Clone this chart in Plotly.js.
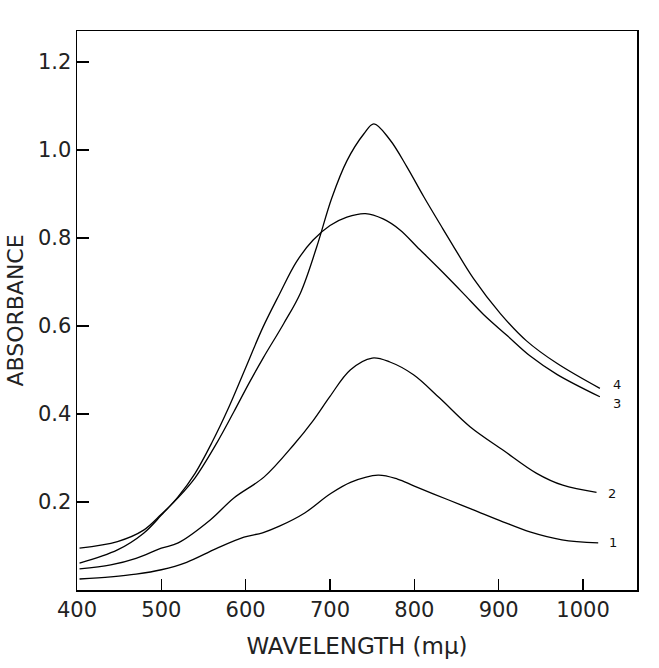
<!DOCTYPE html>
<html>
<head>
<meta charset="utf-8">
<script src="https://cdn.plot.ly/plotly-3.0.1.min.js"></script>
<style>html,body{margin:0;padding:0;background:#fff;}#chart{width:659px;height:668px;}</style>
</head>
<body>
<div id="chart"></div>
<script>
// Curve 1
const wl1 = [403, 440, 470, 500, 530, 565, 598, 620, 640, 670, 700, 725, 757, 780, 800, 840, 870, 905, 937, 975, 1018];
const abs1 = [0.025, 0.030, 0.036, 0.046, 0.063, 0.094, 0.120, 0.130, 0.145, 0.175, 0.218, 0.245, 0.261, 0.252, 0.236, 0.205, 0.182, 0.155, 0.132, 0.114, 0.107];
// Curve 2
const wl2 = [403, 440, 470, 500, 520, 558, 586, 622, 657, 680, 700, 724, 750, 771, 799, 830, 866, 905, 945, 976, 1016];
const abs2 = [0.048, 0.057, 0.072, 0.095, 0.107, 0.159, 0.209, 0.257, 0.330, 0.385, 0.440, 0.500, 0.527, 0.518, 0.489, 0.436, 0.371, 0.318, 0.265, 0.238, 0.222];
// Curve 3
const wl3 = [403, 448, 479, 500, 520, 540, 560, 580, 600, 620, 640, 660, 680, 700, 720, 742, 763, 783, 803, 831, 858, 882, 910, 937, 969, 1020];
const abs3 = [0.061, 0.091, 0.129, 0.170, 0.212, 0.265, 0.335, 0.415, 0.505, 0.595, 0.672, 0.745, 0.795, 0.828, 0.847, 0.855, 0.843, 0.818, 0.780, 0.727, 0.674, 0.626, 0.578, 0.532, 0.490, 0.439];
// Curve 4
const wl4 = [403, 448, 479, 500, 520, 540, 566, 586, 604, 621, 645, 665, 684, 702, 720, 740, 752, 771, 791, 811, 834, 846, 870, 902, 933, 969, 1020];
const abs4 = [0.095, 0.110, 0.136, 0.172, 0.210, 0.255, 0.335, 0.405, 0.470, 0.528, 0.605, 0.675, 0.778, 0.890, 0.975, 1.036, 1.059, 1.023, 0.962, 0.894, 0.820, 0.782, 0.708, 0.628, 0.566, 0.515, 0.458];

const curveLabels = ["1", "2", "3", "4"];
const labelX = [1036, 1034, 1040, 1040];
const labelY = [0.109, 0.220, 0.423, 0.466];

const xTicks = [400, 500, 600, 700, 800, 900, 1000];
const yTicks = [0.2, 0.4, 0.6, 0.8, 1.0, 1.2];
const yTickText = ["0.2", "0.4", "0.6", "0.8", "1.0", "1.2"];

const series = [[wl1, abs1], [wl2, abs2], [wl3, abs3], [wl4, abs4]];
const traces = series.map((s, i) => ({
  x: s[0], y: s[1], type: 'scatter', mode: 'lines',
  name: curveLabels[i],
  line: {color: '#000', width: 1.3, shape: 'spline', smoothing: 1},
  hoverinfo: 'skip'
}));

const annotations = curveLabels.map((t, i) => ({
  x: labelX[i], y: labelY[i], xref: 'x', yref: 'y', text: t, showarrow: false,
  font: {family: 'DejaVu Sans', size: 13, color: '#111'}
}));

const tickFont = {family: 'DejaVu Sans', size: 21, color: '#222'};

const layout = {
  width: 659, height: 668,
  margin: {l: 77, r: 22, t: 31, b: 78},
  paper_bgcolor: '#fff', plot_bgcolor: '#fff',
  showlegend: false,
  xaxis: {
    range: [400, 1064], showgrid: false, zeroline: false,
    showline: true, mirror: true, linecolor: '#000', linewidth: 1.5,
    ticks: 'inside', ticklen: 11, tickwidth: 1.5, tickcolor: '#000',
    tickvals: xTicks, tickfont: tickFont,
    title: {text: 'WAVELENGTH (mμ)', font: {family: 'DejaVu Sans', size: 23, color: '#222'}, standoff: 17}
  },
  yaxis: {
    range: [0, 1.27], showgrid: false, zeroline: false,
    showline: true, mirror: true, linecolor: '#000', linewidth: 1.5,
    ticks: 'inside', ticklen: 12, tickwidth: 1.5, tickcolor: '#000',
    tickvals: yTicks, ticktext: yTickText, tickfont: tickFont,
    title: {text: 'ABSORBANCE', font: {family: 'DejaVu Sans', size: 22, color: '#222'}, standoff: 8}
  },
  annotations: annotations
};

Plotly.newPlot('chart', traces, layout, {displayModeBar: false, staticPlot: true});
</script>
</body>
</html>
